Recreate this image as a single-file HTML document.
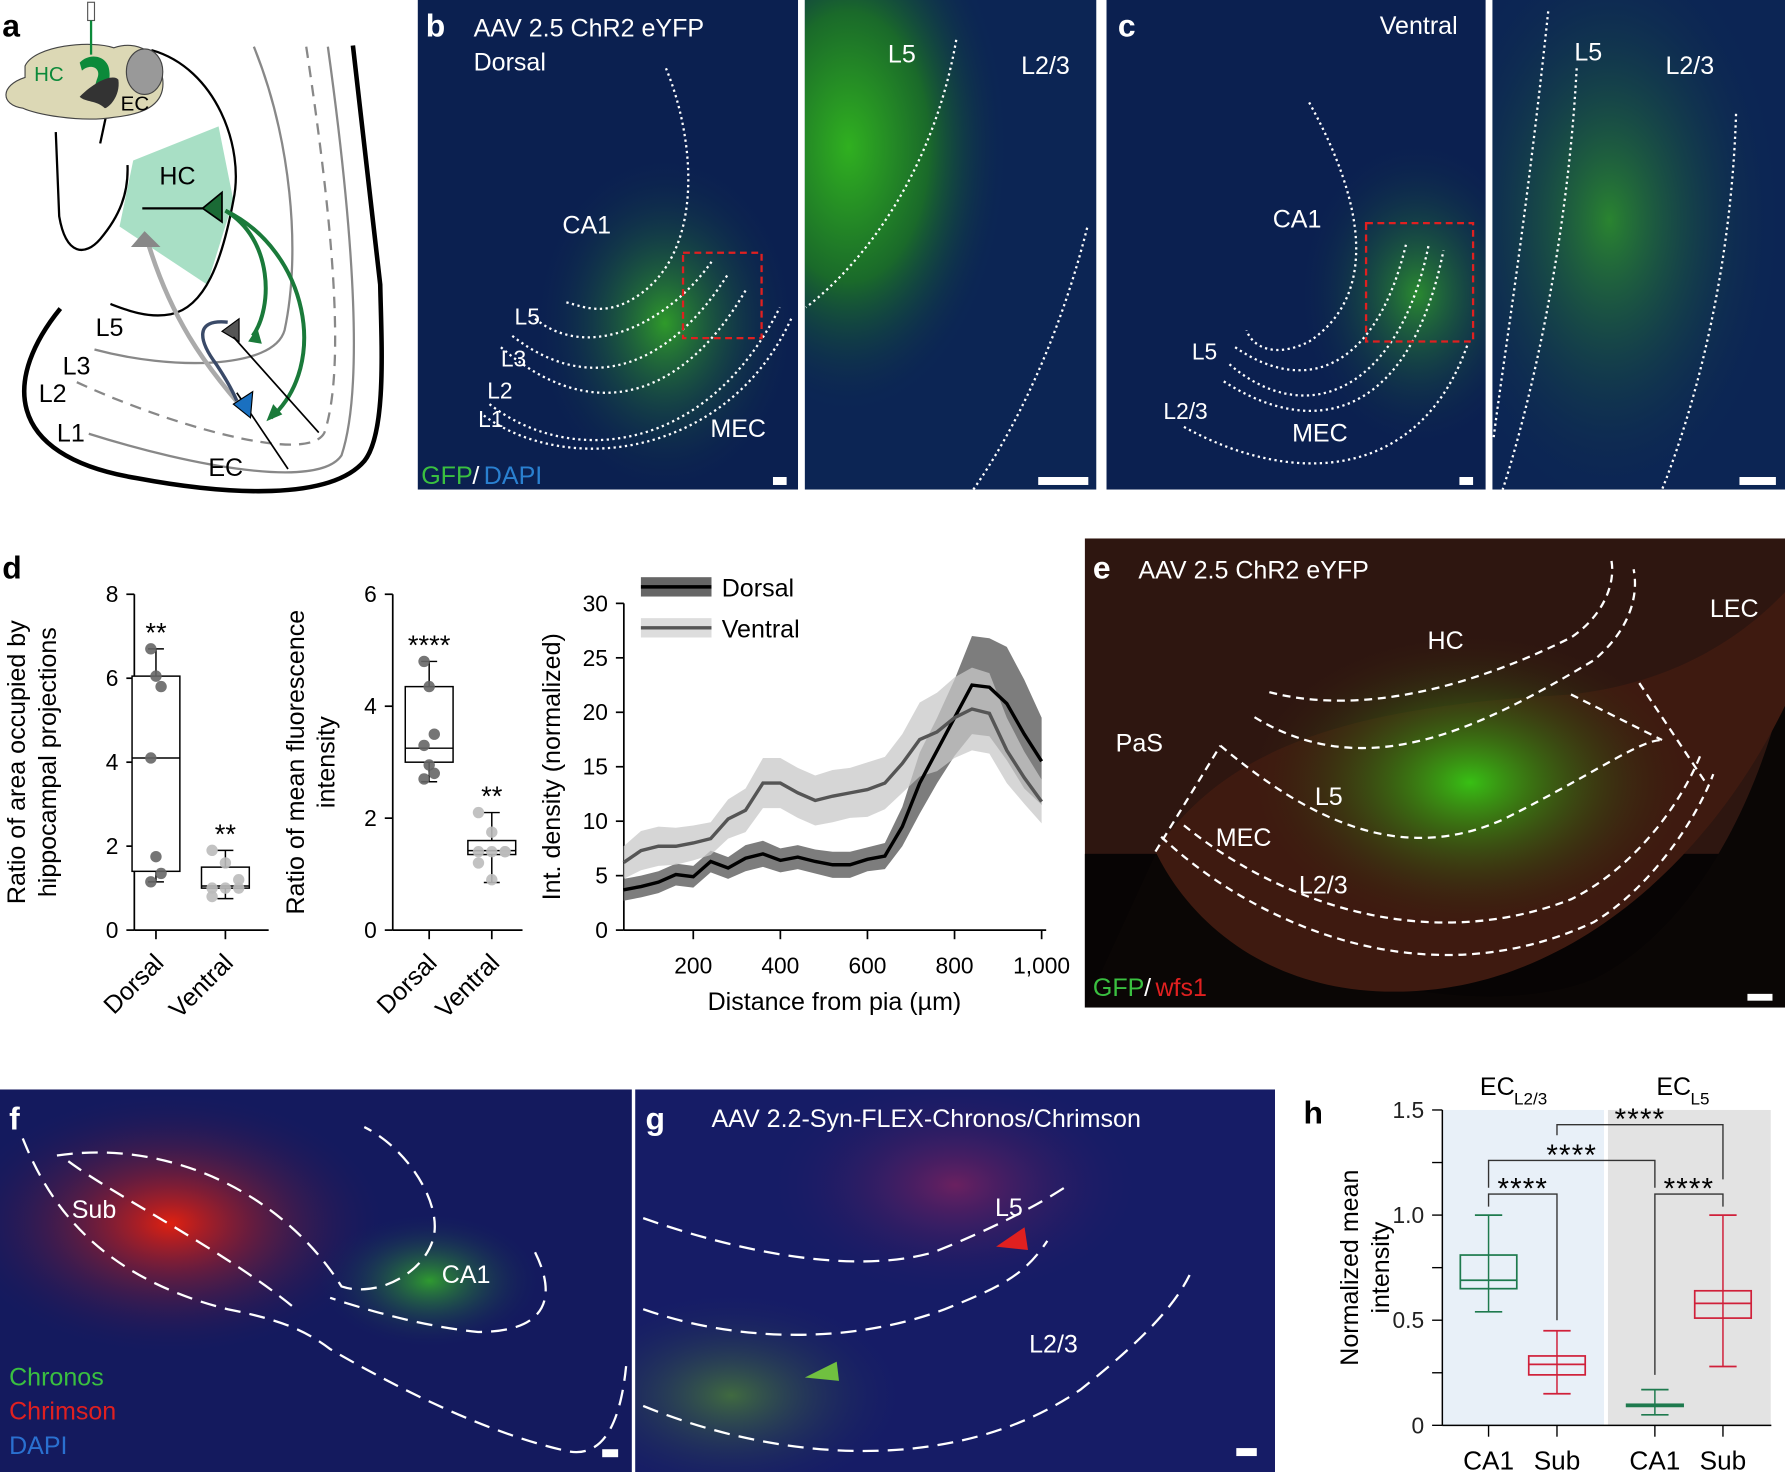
<!DOCTYPE html>
<html><head><meta charset="utf-8"><style>
html,body{margin:0;padding:0;background:#fff;}
svg{display:block;font-family:"Liberation Sans",sans-serif;}
</style></head><body>
<svg id="fig" width="1785" height="1472" viewBox="0 0 1568 1293" preserveAspectRatio="none">
<defs>
<radialGradient id="gB1" cx="0.65" cy="0.66" r="0.35"><stop offset="0" stop-color="#2f9a2a"/><stop offset="1" stop-color="#0b2050" stop-opacity="0"/></radialGradient>
<radialGradient id="gB2" cx="0.15" cy="0.3" r="0.55"><stop offset="0" stop-color="#30b020"/><stop offset="0.5" stop-color="#1a6a2a"/><stop offset="1" stop-color="#0c2554" stop-opacity="0"/></radialGradient>
<radialGradient id="gC1" cx="0.82" cy="0.6" r="0.32"><stop offset="0" stop-color="#2a8a30"/><stop offset="1" stop-color="#0b2050" stop-opacity="0"/></radialGradient>
<radialGradient id="gC2" cx="0.4" cy="0.45" r="0.6"><stop offset="0" stop-color="#2a8430"/><stop offset="1" stop-color="#0c2554" stop-opacity="0"/></radialGradient>
<radialGradient id="gE1" cx="0.55" cy="0.52" r="0.32"><stop offset="0" stop-color="#38c014"/><stop offset="1" stop-color="#3a1a12" stop-opacity="0"/></radialGradient>
<radialGradient id="gF1" cx="0.27" cy="0.35" r="0.35"><stop offset="0" stop-color="#e02010"/><stop offset="1" stop-color="#141a5e" stop-opacity="0"/></radialGradient>
<radialGradient id="gF2" cx="0.68" cy="0.5" r="0.18"><stop offset="0" stop-color="#2f9a30"/><stop offset="1" stop-color="#141a5e" stop-opacity="0"/></radialGradient>
<radialGradient id="gG1" cx="0.5" cy="0.25" r="0.3"><stop offset="0" stop-color="#6a2060"/><stop offset="1" stop-color="#161c66" stop-opacity="0"/></radialGradient>
<radialGradient id="gG2" cx="0.15" cy="0.8" r="0.28"><stop offset="0" stop-color="#406a40"/><stop offset="1" stop-color="#161c66" stop-opacity="0"/></radialGradient>
</defs>

<!-- Panel a schematic -->
<g>
<text x="2" y="32" font-size="28" font-weight="bold">a</text>
<polygon points="117,141 192,111 205,176 182,250 105,199" fill="#a8dfc5"/>
<path d="M53,271 C5,330 0,400 120,420 C200,435 290,440 320,405 C340,380 335,300 334,250 L310,40" fill="none" stroke="#000" stroke-width="4"/>
<path d="M133,44 C190,60 215,130 205,176 C195,230 180,270 150,276 C130,280 110,272 97,267" fill="none" stroke="#000" stroke-width="2"/>
<path d="M49,116 L52,190 C58,225 75,225 88,210 C105,190 113,170 112,145" fill="none" stroke="#000" stroke-width="2"/>
<path d="M94,98 L88,126" stroke="#000" stroke-width="2"/>
<path d="M223,41 C255,120 265,220 250,290 C240,325 150,325 83,307" fill="none" stroke="#888" stroke-width="2"/>
<path d="M288,41 C310,200 320,340 300,400 C280,430 170,410 78,381" fill="none" stroke="#888" stroke-width="2"/>
<path d="M269,41 C290,180 305,320 285,380 C270,410 140,370 66,335" fill="none" stroke="#888" stroke-width="2" stroke-dasharray="10,7"/>
<path d="M129,210 C150,280 180,320 210,355" fill="none" stroke="#aaa" stroke-width="4"/>
<polygon points="127,203 115,217 141,217" fill="#888"/>
<path d="M125,183 L188,183" stroke="#000" stroke-width="2"/>
<polygon points="178,183 195,169 195,195" fill="#1a6a35" stroke="#000" stroke-width="1.5"/>
<path d="M198,185 C240,210 240,270 222,295" fill="none" stroke="#1a7a3a" stroke-width="3.5"/>
<path d="M198,185 C270,220 290,320 238,367" fill="none" stroke="#1a7a3a" stroke-width="3.5"/>
<polygon points="218,300 226,288 230,302" fill="#1a7a3a"/>
<polygon points="234,370 240,355 248,364" fill="#1a7a3a"/>
<polygon points="195,291 210,280 210,300" fill="#555" stroke="#000"/>
<path d="M205,296 L280,380 M208,345 L253,412" stroke="#000" stroke-width="1.5"/>
<path d="M200,283 C170,280 175,300 190,320 C200,335 205,345 208,352" fill="none" stroke="#3a4a68" stroke-width="3"/>
<polygon points="205,355 222,344 220,367" fill="#1a70c0" stroke="#000"/>
<g>
<path d="M22,58 C30,40 80,35 100,42 C120,35 140,45 143,70 C145,90 130,100 100,103 C70,108 30,100 20,95 C0,92 0,75 22,68 Z" fill="#dcd8b5" stroke="#444"/>
<ellipse cx="127" cy="63" rx="16" ry="20" fill="#999" stroke="#444"/>
<path d="M70,55 C80,45 95,50 96,62 C98,75 90,80 82,80 L85,70 C90,60 80,55 72,62 Z" fill="#0c8a3a"/>
<path d="M70,85 C85,70 100,65 104,70 C106,85 95,95 92,95 C85,88 75,90 70,85 Z" fill="#333"/>
<rect x="77" y="2" width="6" height="16" fill="#fff" stroke="#555"/><path d="M80,18 L80,48" stroke="#0c8a3a" stroke-width="2"/>
<text x="30" y="71" font-size="18" fill="#0c8a3a">HC</text><text x="106" y="97" font-size="18">EC</text>
</g>
<text x="140" y="162" font-size="22">HC</text>
<text x="84" y="295" font-size="22">L5</text>
<text x="55" y="329" font-size="22">L3</text>
<text x="34" y="353" font-size="22">L2</text>
<text x="50" y="388" font-size="22">L1</text>
<text x="183" y="418" font-size="22">EC</text>
</g>

<!-- Panel b -->
<g>
<rect x="367" y="0" width="334" height="430" fill="#0b2050"/>
<rect x="367" y="0" width="334" height="430" fill="url(#gB1)"/>
<rect x="707" y="0" width="256" height="430" fill="#0c2554"/>
<rect x="707" y="0" width="256" height="430" fill="url(#gB2)"/>
<g fill="none" stroke="#fff" stroke-width="2" stroke-dasharray="2,3">
<path d="M585,60 C610,120 620,220 560,260 C530,280 510,268 495,265"/>
<path d="M470,280 C520,320 590,280 625,230"/>
<path d="M450,295 C520,350 590,320 640,240"/>
<path d="M440,305 C520,375 600,350 655,255"/>
<path d="M430,355 C500,410 620,400 685,270"/>
<path d="M425,365 C500,420 640,400 695,280"/>
<path d="M840,35 C820,150 760,230 708,270"/>
<path d="M955,200 C930,300 890,380 855,430"/>
</g>
<rect x="600" y="222" width="69" height="75" fill="none" stroke="#e02020" stroke-width="2" stroke-dasharray="6,4"/>
<text x="374" y="32" font-size="28" font-weight="bold" fill="#fff">b</text>
<text x="416" y="32" font-size="22" fill="#fff">AAV 2.5 ChR2 eYFP</text>
<text x="416" y="62" font-size="22" fill="#fff">Dorsal</text>
<text x="494" y="205" font-size="22" fill="#fff">CA1</text>
<text x="452" y="285" font-size="20" fill="#fff">L5</text>
<text x="440" y="322" font-size="20" fill="#fff">L3</text>
<text x="428" y="350" font-size="20" fill="#fff">L2</text>
<text x="420" y="375" font-size="20" fill="#fff">L1</text>
<text x="624" y="384" font-size="22" fill="#fff">MEC</text>
<text x="370" y="425" font-size="22" fill="#3ac040">GFP</text><text x="415" y="425" font-size="22" fill="#fff">/</text><text x="425" y="425" font-size="22" fill="#2a80d0">DAPI</text>
<rect x="679" y="419" width="12" height="7" fill="#fff"/>
<text x="780" y="55" font-size="22" fill="#fff">L5</text>
<text x="897" y="65" font-size="22" fill="#fff">L2/3</text>
<rect x="912" y="419" width="44" height="7" fill="#fff"/>
</g>

<!-- Panel c -->
<g>
<rect x="972" y="0" width="333" height="430" fill="#0b2050"/>
<rect x="972" y="0" width="333" height="430" fill="url(#gC1)"/>
<rect x="1311" y="0" width="257" height="430" fill="#0c2554"/>
<rect x="1311" y="0" width="257" height="430" fill="url(#gC2)"/>
<g fill="none" stroke="#fff" stroke-width="2" stroke-dasharray="2,3">
<path d="M1150,90 C1200,180 1210,260 1150,300 C1120,315 1100,305 1095,290"/>
<path d="M1085,305 C1150,350 1210,320 1235,215"/>
<path d="M1080,320 C1150,380 1230,340 1255,215"/>
<path d="M1075,335 C1160,390 1240,360 1268,220"/>
<path d="M1040,375 C1140,430 1250,420 1290,300"/>
<path d="M1360,10 C1340,200 1320,320 1312,385"/>
<path d="M1385,60 C1375,250 1330,400 1320,430"/>
<path d="M1525,100 C1520,260 1480,380 1460,430"/>
</g>
<rect x="1200" y="196" width="94" height="104" fill="none" stroke="#e02020" stroke-width="2" stroke-dasharray="6,4"/>
<text x="982" y="32" font-size="28" font-weight="bold" fill="#fff">c</text>
<text x="1212" y="30" font-size="22" fill="#fff">Ventral</text>
<text x="1118" y="200" font-size="22" fill="#fff">CA1</text>
<text x="1047" y="316" font-size="20" fill="#fff">L5</text>
<text x="1022" y="368" font-size="20" fill="#fff">L2/3</text>
<text x="1135" y="388" font-size="22" fill="#fff">MEC</text>
<rect x="1282" y="419" width="12" height="7" fill="#fff"/>
<text x="1383" y="53" font-size="22" fill="#fff">L5</text>
<text x="1463" y="65" font-size="22" fill="#fff">L2/3</text>
<rect x="1528" y="419" width="32" height="7" fill="#fff"/>
</g>

<!-- Panel d -->
<text x="2" y="508" font-size="28" font-weight="bold">d</text>
<g id="d1"></g>
<g id="d2"></g>
<g id="d3"></g>

<!-- Panel e -->
<g>
<rect x="953" y="473" width="615" height="412" fill="#2e1610"/>
<rect x="953" y="750" width="615" height="135" fill="#070404"/>
<path d="M1015,750 C1100,860 1300,900 1400,860 C1480,820 1540,720 1568,600 L1568,885 L953,885 Z" fill="#0a0605"/>
<path d="M1015,748 C1080,650 1200,620 1380,610 C1470,600 1530,560 1568,520 L1568,620 C1500,760 1380,860 1250,870 C1130,880 1050,820 1015,748 Z" fill="#3e1a10"/>
<rect x="953" y="473" width="615" height="412" fill="url(#gE1)"/>
<g fill="none" stroke="#fff" stroke-width="2" stroke-dasharray="7,5">
<path d="M1115,608 C1200,630 1300,600 1380,560 C1410,540 1420,510 1415,490"/>
<path d="M1102,630 C1200,690 1300,640 1400,580 C1430,555 1440,525 1435,500"/>
<path d="M1072,655 C1150,720 1230,760 1320,720 C1400,680 1440,650 1460,650"/>
<path d="M1020,735 C1100,810 1250,880 1400,810 C1450,780 1490,720 1505,680"/>
<path d="M1040,725 C1120,790 1250,840 1380,790 C1440,760 1480,700 1495,660"/>
<path d="M1380,610 L1460,650 M1440,600 L1500,690"/>
<path d="M1015,748 L1072,655"/>
</g>
<text x="960" y="508" font-size="28" font-weight="bold" fill="#fff">e</text>
<text x="1000" y="508" font-size="22" fill="#fff">AAV 2.5 ChR2 eYFP</text>
<text x="1254" y="570" font-size="22" fill="#fff">HC</text>
<text x="1502" y="542" font-size="22" fill="#fff">LEC</text>
<text x="980" y="660" font-size="22" fill="#fff">PaS</text>
<text x="1155" y="707" font-size="22" fill="#fff">L5</text>
<text x="1068" y="743" font-size="22" fill="#fff">MEC</text>
<text x="1141" y="785" font-size="22" fill="#fff">L2/3</text>
<text x="960" y="875" font-size="22" fill="#3ac040">GFP</text><text x="1005" y="875" font-size="22" fill="#fff">/</text><text x="1015" y="875" font-size="22" fill="#e02020">wfs1</text>
<rect x="1535" y="873" width="22" height="6" fill="#fff"/>
</g>

<!-- Panel f -->
<g>
<rect x="0" y="957" width="555" height="336" fill="#141a5e"/>
<rect x="0" y="957" width="555" height="336" fill="url(#gF1)"/>
<rect x="0" y="957" width="555" height="336" fill="url(#gF2)"/>
<g fill="none" stroke="#fff" stroke-width="2" stroke-dasharray="14,8">
<path d="M20,1000 C40,1050 80,1120 200,1150 C250,1160 270,1170 290,1185 C350,1220 430,1260 500,1275 C530,1280 545,1250 550,1200"/>
<path d="M50,1015 C150,1000 250,1050 300,1130 C330,1140 370,1120 380,1090 C390,1060 360,1010 320,990"/>
<path d="M470,1100 C490,1140 480,1170 420,1170 C370,1165 320,1150 290,1140"/>
<path d="M60,1020 C100,1050 200,1100 260,1150"/>
</g>
<text x="8" y="992" font-size="28" font-weight="bold" fill="#fff">f</text>
<text x="63" y="1070" font-size="22" fill="#fff">Sub</text>
<text x="388" y="1127" font-size="22" fill="#fff">CA1</text>
<text x="8" y="1217" font-size="22" fill="#3ac040">Chronos</text>
<text x="8" y="1247" font-size="22" fill="#e02020">Chrimson</text>
<text x="8" y="1277" font-size="22" fill="#2a70d0">DAPI</text>
<rect x="529" y="1273" width="14" height="7" fill="#fff"/>
</g>

<!-- Panel g -->
<g>
<rect x="558" y="957" width="562" height="336" fill="#161c66"/>
<rect x="558" y="957" width="562" height="336" fill="url(#gG1)"/>
<rect x="558" y="957" width="562" height="336" fill="url(#gG2)"/>
<g fill="none" stroke="#fff" stroke-width="2" stroke-dasharray="14,8">
<path d="M565,1070 C650,1100 750,1120 820,1100 C870,1080 910,1060 940,1040"/>
<path d="M565,1150 C650,1180 750,1180 830,1150 C880,1130 900,1120 920,1090"/>
<path d="M565,1235 C700,1290 850,1290 950,1220 C1000,1180 1030,1150 1045,1120"/>
</g>
<polygon points="875,1095 900,1078 903,1098" fill="#e02020"/>
<polygon points="707,1210 735,1196 737,1213" fill="#70c040"/>
<text x="567" y="992" font-size="28" font-weight="bold" fill="#fff">g</text>
<text x="625" y="990" font-size="22" fill="#fff">AAV 2.2-Syn-FLEX-Chronos/Chrimson</text>
<text x="874" y="1068" font-size="22" fill="#fff">L5</text>
<text x="904" y="1188" font-size="22" fill="#fff">L2/3</text>
<rect x="1086" y="1272" width="18" height="7" fill="#fff"/>
</g>

<!-- Panel h -->
<text x="1145" y="987" font-size="28" font-weight="bold">h</text>
<g id="h"></g>
</svg>

<script>
// ---- d1 data ----
const d1Cats = ["Dorsal","Ventral"];
const d1Q1 = [1.4, 1.0];
const d1Med = [4.1, 1.05];
const d1Q3 = [6.05, 1.5];
const d1Lo = [1.15, 0.75];
const d1Hi = [6.7, 1.9];
const d1Pts = [[6.7,6.05,5.8,4.1,1.75,1.35,1.15],[1.9,1.6,1.2,1.0,1.0,1.0,0.8]];
const d1Ticks = [0,2,4,6,8];
const d1Stars = ["**","**"];
// ---- d2 data ----
const d2Cats = ["Dorsal","Ventral"];
const d2Q1 = [3.0, 1.35];
const d2Med = [3.25, 1.42];
const d2Q3 = [4.35, 1.6];
const d2Lo = [2.65, 0.85];
const d2Hi = [4.8, 2.1];
const d2Pts = [[4.8,4.35,3.5,3.3,2.95,2.8,2.7],[2.1,1.75,1.4,1.4,1.4,1.4,1.2,0.9]];
const d2Ticks = [0,2,4,6];
const d2Stars = ["****","**"];
// ---- d3 data ----
const d3X = [40,80,120,160,200,240,280,320,360,400,440,480,520,560,600,640,680,720,760,800,840,880,920,960,1000];
const dorsalMean = [3.7,4.0,4.4,5.1,4.9,6.3,5.7,6.6,7.0,6.4,6.7,6.3,6.0,6.0,6.5,6.8,9.5,13.5,16.5,19.5,22.5,22.3,20.8,18.0,15.5];
const dorsalErr = [1.0,1.0,1.0,1.0,1.0,1.0,1.0,1.2,1.2,1.1,1.1,1.1,1.2,1.2,1.1,1.2,1.8,2.8,3.0,3.5,4.5,4.5,5.2,5.0,4.0];
const ventralMean = [6.2,7.3,7.7,7.7,8.0,8.4,10.2,11.0,13.5,13.5,12.6,11.9,12.3,12.6,12.9,13.5,15.3,17.5,18.2,19.5,20.3,19.9,16.5,14.0,11.8];
const ventralErr = [1.5,1.8,1.8,1.7,1.6,1.5,1.8,2.0,2.3,2.3,2.3,2.3,2.4,2.3,2.5,2.4,2.7,3.4,3.6,3.7,3.8,3.7,3.0,2.4,2.0];
const d3XTicks = [200,400,600,800,1000];
const d3XTickLabels = ["200","400","600","800","1,000"];
const d3YTicks = [0,5,10,15,20,25,30];
// ---- h data ----
const hCats = ["CA1","Sub","CA1","Sub"];
const hLo = [0.54,0.15,0.05,0.28];
const hQ1 = [0.65,0.24,0.09,0.51];
const hMed = [0.69,0.29,0.095,0.58];
const hQ3 = [0.81,0.33,0.10,0.64];
const hHi = [1.0,0.45,0.17,1.0];
const hColors = ["#1e7a4e","#d0203a","#1e7a4e","#d0203a"];
const hTicks = [0,0.5,1.0,1.5];
const hTickLabels = ["0","0.5","1.0","1.5"];

const NS="http://www.w3.org/2000/svg";
function el(parent,tag,attrs,text){const e=document.createElementNS(NS,tag);for(const k in attrs)e.setAttribute(k,attrs[k]);if(text!==undefined)e.textContent=text;parent.appendChild(e);return e;}

function boxChart(gid,cats,q1,med,q3,lo,hi,pts,ticks,stars,ax,ymax,titleLines){
  const g=document.getElementById(gid);
  const y=v=>ax.y0-(v/ymax)*(ax.y0-ax.y1);
  const t=el(g,'line',{x1:ax.x0,y1:ax.y1,x2:ax.x0,y2:ax.y0,stroke:'#000','stroke-width':1.5});
  
  
  const xa=el(g,'line',{x1:ax.x0,y1:ax.y0,x2:ax.xEnd,y2:ax.y0,stroke:'#000','stroke-width':1.5});
  
  
  ticks.forEach(v=>{
    el(g,'line',{x1:ax.x0-7,x2:ax.x0,y1:y(v),y2:y(v),stroke:'#000','stroke-width':1.5});
    const tl=el(g,'text',{x:ax.x0-14,y:y(v)+7,'font-size':20,'text-anchor':'end'},String(v));
    
    
  });
  titleLines.forEach((s,i)=>{
    const tt=el(g,'text',{x:0,y:0,'font-size':22,'text-anchor':'middle',transform:`translate(${ax.tx+i*27},${(ax.y0+ax.y1)/2}) rotate(-90)`},s);
    
    
  });
  cats.forEach((c,i)=>{
    const cx=ax.cx[i], w=21;
    el(g,'line',{x1:cx,x2:cx,y1:ax.y0,y2:ax.y0+8,stroke:'#000','stroke-width':1.5});
    const lb=el(g,'text',{x:0,y:0,'font-size':22,'text-anchor':'end',transform:`translate(${cx+8},${ax.y0+30}) rotate(-45)`},c);
    
    
    el(g,'line',{x1:cx,x2:cx,y1:y(lo[i]),y2:y(hi[i]),stroke:'#000','stroke-width':1.3});
    el(g,'line',{x1:cx-7,x2:cx+7,y1:y(lo[i]),y2:y(lo[i]),stroke:'#000','stroke-width':1.3});
    el(g,'line',{x1:cx-7,x2:cx+7,y1:y(hi[i]),y2:y(hi[i]),stroke:'#000','stroke-width':1.3});
    const b=el(g,'rect',{x:cx-w,y:y(q3[i]),width:2*w,height:y(q1[i])-y(q3[i]),fill:'#fff',stroke:'#000','stroke-width':1.3});
    
    
    el(g,'line',{x1:cx-w,x2:cx+w,y1:y(med[i]),y2:y(med[i]),stroke:'#000','stroke-width':1.3});
    const col=i===0?'#666':'#bbb';
    pts[i].forEach((v,j)=>{
      const off=((j%3)-1)*9*(i===0?0.5:1.3);
      const p=el(g,'circle',{cx:cx+off,cy:y(v),r:5,fill:col,opacity:0.9});
      
      
    });
    const st=el(g,'text',{x:cx,y:y(hi[i])-6,'font-size':24,'text-anchor':'middle'},stars[i]);
    
    
  });
}
boxChart('d1',d1Cats,d1Q1,d1Med,d1Q3,d1Lo,d1Hi,d1Pts,d1Ticks,d1Stars,{x0:118,xEnd:236,y0:817,y1:522,cx:[137,198],tx:22},8,["Ratio of area occupied by","hippocampal projections"]);
boxChart('d2',d2Cats,d2Q1,d2Med,d2Q3,d2Lo,d2Hi,d2Pts,d2Ticks,d2Stars,{x0:345,xEnd:459,y0:817,y1:522,cx:[377,432],tx:267},6,["Ratio of mean fluorescence","intensity"]);

// line chart
(function(){
  const g=document.getElementById('d3');
  const X0=548,X1=919,Y0=817,Y1=530;
  const xs=v=>532.5+(v/200)*76.5;
  const ys=v=>Y0-(v/30)*(Y0-Y1);
  const ya=el(g,'line',{x1:X0,y1:Y1,x2:X0,y2:Y0,stroke:'#000','stroke-width':1.5});
  
  
  const xa=el(g,'line',{x1:X0,y1:Y0,x2:X1,y2:Y0,stroke:'#000','stroke-width':1.5});
  
  
  d3YTicks.forEach(v=>{
    el(g,'line',{x1:X0-7,x2:X0,y1:ys(v),y2:ys(v),stroke:'#000','stroke-width':1.5});
    const t=el(g,'text',{x:X0-14,y:ys(v)+7,'font-size':20,'text-anchor':'end'},String(v));
    
    
  });
  d3XTicks.forEach((v,i)=>{
    el(g,'line',{x1:xs(v),x2:xs(v),y1:Y0,y2:Y0+8,stroke:'#000','stroke-width':1.5});
    const t=el(g,'text',{x:xs(v),y:Y0+38,'font-size':20,'text-anchor':'middle'},d3XTickLabels[i]);
    
    
  });
  const xt=el(g,'text',{x:733,y:887,'font-size':22,'text-anchor':'middle'},'Distance from pia (µm)');
  
  
  const yt=el(g,'text',{x:0,y:0,'font-size':22,'text-anchor':'middle',transform:`translate(492,${(Y0+Y1)/2}) rotate(-90)`},'Int. density (normalized)');
  
  
  function band(mean,err,fill,op,stroke,name){
    let up=d3X.map((x,i)=>`${xs(x)},${ys(mean[i]+err[i])}`);
    let dn=d3X.map((x,i)=>`${xs(x)},${ys(mean[i]-err[i])}`).reverse();
    const b=el(g,'polygon',{points:up.concat(dn).join(' '),fill:fill,opacity:op});
    
    
    return ()=>{
      const l=el(g,'polyline',{points:d3X.map((x,i)=>`${xs(x)},${ys(mean[i])}`).join(' '),fill:'none',stroke:stroke,'stroke-width':3});
      
      
    };
  }
  const ld=band(dorsalMean,dorsalErr,'#666',0.85,'#000','dorsal');
  const lv=band(ventralMean,ventralErr,'#c8c8c8',0.75,'#555','ventral');
  ld(); lv();
  const L=el(g,'g',{});
  
  
  el(L,'rect',{x:563,y:507,width:62,height:17,fill:'#666'});
  el(L,'line',{x1:563,x2:625,y1:515.5,y2:515.5,stroke:'#000','stroke-width':3});
  el(L,'text',{x:634,y:524,'font-size':22},'Dorsal');
  el(L,'rect',{x:563,y:543,width:62,height:17,fill:'#ddd'});
  el(L,'line',{x1:563,x2:625,y1:551.5,y2:551.5,stroke:'#555','stroke-width':3});
  el(L,'text',{x:634,y:560,'font-size':22},'Ventral');
})();

// panel h
(function(){
  const g=document.getElementById('h');
  const X0=1267,Y0=1252,Y1=975;
  const ys=v=>Y0-(v/1.5)*(Y0-Y1);
  const cx=[1307.6,1367.7,1453.7,1513.5];
  const bg1=el(g,'rect',{x:1267,y:Y1,width:142,height:Y0-Y1,fill:'#e8f0f8'});
  
  
  const bg2=el(g,'rect',{x:1412.5,y:Y1,width:143,height:Y0-Y1,fill:'#e3e3e3'});
  
  
  el(g,'line',{x1:X0,y1:Y1,x2:X0,y2:Y0,stroke:'#000','stroke-width':1.3});
  el(g,'line',{x1:X0,y1:Y0,x2:1556,y2:Y0,stroke:'#000','stroke-width':1.3});
  [0,0.25,0.5,0.75,1.0,1.25,1.5].forEach(v=>el(g,'line',{x1:X0-9,x2:X0,y1:ys(v),y2:ys(v),stroke:'#000','stroke-width':1.2}));
  hTicks.forEach((v,i)=>{
    const t=el(g,'text',{x:X0-16,y:ys(v)+7,'font-size':20,'text-anchor':'end',fill:'#222'},hTickLabels[i]);
    
    
  });
  const t1=el(g,'text',{x:0,y:0,'font-size':22,'text-anchor':'middle',transform:`translate(1193,${(Y0+Y1)/2}) rotate(-90)`},'Normalized mean');
  
  
  el(g,'text',{x:0,y:0,'font-size':22,'text-anchor':'middle',transform:`translate(1220,${(Y0+Y1)/2}) rotate(-90)`},'intensity');
  const g1=el(g,'text',{x:1300,y:962,'font-size':22},'EC');
  
  
  el(g,'text',{x:1330,y:970,'font-size':15},'L2/3');
  const g2=el(g,'text',{x:1455,y:962,'font-size':22},'EC');
  
  
  el(g,'text',{x:1485,y:970,'font-size':15},'L5');
  hCats.forEach((c,i)=>{
    const x=cx[i], w=24.8, col=hColors[i];
    el(g,'line',{x1:x,x2:x,y1:Y0,y2:Y0+10,stroke:'#000','stroke-width':1.2});
    const lb=el(g,'text',{x:x,y:1291,'font-size':23,'text-anchor':'middle'},c);
    
    
    el(g,'line',{x1:x,x2:x,y1:ys(hLo[i]),y2:ys(hHi[i]),stroke:col,'stroke-width':1.3});
    el(g,'line',{x1:x-12,x2:x+12,y1:ys(hLo[i]),y2:ys(hLo[i]),stroke:col,'stroke-width':1.5});
    el(g,'line',{x1:x-12,x2:x+12,y1:ys(hHi[i]),y2:ys(hHi[i]),stroke:col,'stroke-width':1.5});
    const b=el(g,'rect',{x:x-w,y:ys(hQ3[i]),width:2*w,height:Math.max(ys(hQ1[i])-ys(hQ3[i]),1),fill:'none',stroke:col,'stroke-width':1.5});
    
    
    el(g,'line',{x1:x-w,x2:x+w,y1:ys(hMed[i]),y2:ys(hMed[i]),stroke:col,'stroke-width':1.5});
  });
  function bracket(a,b,lev,la,lb,name){
    const p=el(g,'polyline',{points:`${cx[a]},${ys(la)} ${cx[a]},${ys(lev)} ${cx[b]},${ys(lev)} ${cx[b]},${ys(lb)}`,fill:'none',stroke:'#333','stroke-width':1.2});
    
    
    const s=el(g,'text',{x:(cx[a]+cx[b])/2,y:ys(lev)+4,'font-size':26,'text-anchor':'middle','letter-spacing':'1'},'****');
    
    
  }
  bracket(0,1,1.1,1.04,0.5,'bracket-l23');
  bracket(0,2,1.26,1.13,1.13,'bracket-ca1');
  bracket(1,3,1.43,1.38,1.17,'bracket-sub');
  bracket(2,3,1.1,0.24,1.04,'bracket-l5');
})();
</script>
</body></html>
